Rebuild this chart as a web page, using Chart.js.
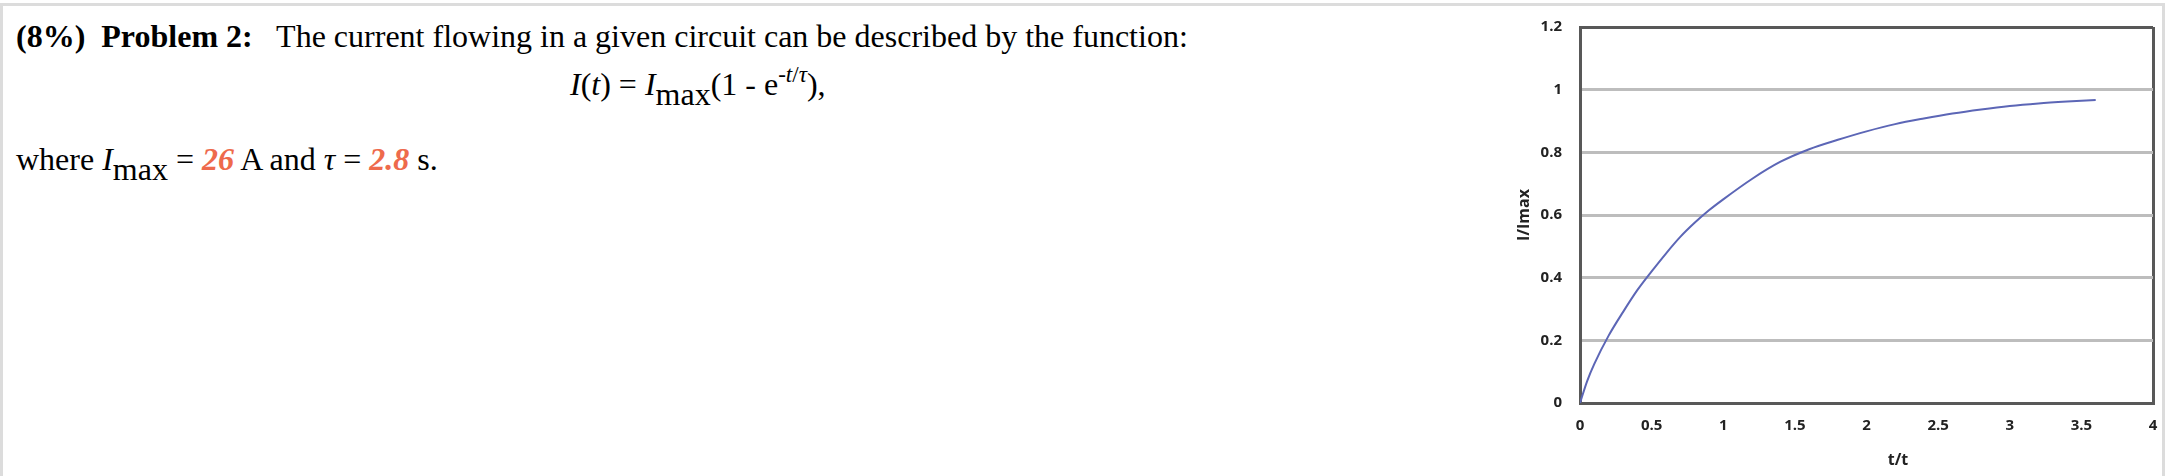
<!DOCTYPE html>
<html>
<head>
<meta charset="utf-8">
<script src="https://cdn.jsdelivr.net/npm/chart.js@4/dist/chart.umd.min.js"></script>
<style>
  body { margin: 0; width: 2172px; height: 476px; overflow: hidden; background: #fff; }
  #frame { position: absolute; left: 0; top: 3px; width: 2165px; height: 520px; border: 3px solid #dcdcdc; box-sizing: border-box; }
  .txt { position: absolute; font-family: "Liberation Serif", "Times New Roman", serif; font-size: 32px; color: #000; white-space: pre; line-height: 1; }
  .hl { color: #ee6a4c; font-weight: bold; font-style: italic; }
  sub { font-size: 100%; vertical-align: -0.3em; line-height: 0; }
  sup { font-size: 72%; vertical-align: 0.55em; line-height: 0; }
  #wrap { position: absolute; left: 1500px; top: 0; width: 672px; height: 476px; }
</style>
</head>
<body>
<div id="frame"></div>
<div class="txt" style="left:16px; top:20px;"><b>(8%)</b>  <b>Problem 2:</b>   The current flowing in a given circuit can be described by the function:</div>
<div class="txt" style="left:570px; top:68px;"><i>I</i>(<i>t</i>) = <i>I</i><sub>max</sub>(1 - e<sup>-<i>t</i>/<i>τ</i></sup>),</div>
<div class="txt" style="left:16px; top:143px;">where <i>I</i><sub>max</sub> = <span class="hl">26</span> A and <i>τ</i> = <span class="hl">2.8</span> s.</div>
<div id="wrap"><canvas id="chart1"></canvas></div>
<script>
// values (t/tau, I/Imax)
const tValues = [0, 0.05, 0.1, 0.2, 0.3, 0.4, 0.5, 0.6, 0.7, 0.8, 0.9, 1.0, 1.2, 1.4, 1.6, 1.8, 2.0, 2.2, 2.4, 2.6, 2.8, 3.0, 3.2, 3.4, 3.6];
const iValues = [0, 0.07, 0.125, 0.215, 0.29, 0.36, 0.42, 0.477, 0.53, 0.575, 0.615, 0.65, 0.715, 0.77, 0.81, 0.84, 0.867, 0.89, 0.908, 0.924, 0.937, 0.948, 0.956, 0.962, 0.967];
const xTicks = [0, 0.5, 1, 1.5, 2, 2.5, 3, 3.5, 4];
const yTicks = [0, 0.2, 0.4, 0.6, 0.8, 1, 1.2];

const points = tValues.map((t, i) => ({ x: t, y: iValues[i] }));
const frameColor = '#585858';
const gridColor = '#bdbdbd';
const tickFont = { family: 'Open Sans', size: 15, weight: 'bold' };

const xTitle = {
    id: 'xTitle',
    afterDraw(chart) {
        const ctx = chart.ctx;
        const x = chart.scales.x;
        ctx.save();
        ctx.font = 'bold 16px "Open Sans"';
        ctx.fillStyle = '#222';
        ctx.textAlign = 'center';
        ctx.textBaseline = 'middle';
        ctx.fillText('t/t', x.getPixelForValue(2.22), 460);
        ctx.restore();
    }
};

new Chart(document.getElementById('chart1'), {
    type: 'line',
    data: {
        datasets: [{
            label: 'I/Imax',
            data: points,
            borderColor: '#5c66b6',
            borderWidth: 2,
            pointRadius: 0,
            cubicInterpolationMode: 'monotone',
            fill: false
        }]
    },
    options: {
        responsive: true,
        maintainAspectRatio: false,
        animation: false,
        devicePixelRatio: 1,
        layout: { padding: { left: 0, top: 23, right: 19, bottom: 0 } },
        plugins: { legend: { display: false }, tooltip: { enabled: false } },
        scales: {
            x: {
                type: 'linear',
                min: 0,
                max: 4,
                afterBuildTicks: s => { s.ticks = xTicks.map(v => ({ value: v })); },
                afterFit: s => { s.height = 73; },
                ticks: { color: '#222', font: tickFont, padding: 14, maxRotation: 0, callback: v => String(v) },
                grid: {
                    drawTicks: false,
                    lineWidth: 3,
                    color: c => c.tick && c.tick.value === 4 ? frameColor : 'rgba(0,0,0,0)'
                },
                border: { color: frameColor, width: 3 }
            },
            y: {
                min: 0,
                max: 1.2,
                afterBuildTicks: s => { s.ticks = yTicks.map(v => ({ value: v })); },
                afterFit: s => { s.width = 80; },
                ticks: { color: '#222', font: tickFont, padding: 18, callback: v => String(v) },
                grid: {
                    drawTicks: false,
                    lineWidth: 3,
                    color: c => c.tick && c.tick.value === 1.2 ? frameColor : gridColor
                },
                border: { color: frameColor, width: 3 },
                title: {
                    display: true,
                    text: 'I/Imax',
                    color: '#222',
                    font: { family: 'Open Sans', size: 16, weight: 'bold' },
                    padding: { top: 15, bottom: 0 }
                }
            }
        }
    },
    plugins: [xTitle]
});
</script>
</body>
</html>
